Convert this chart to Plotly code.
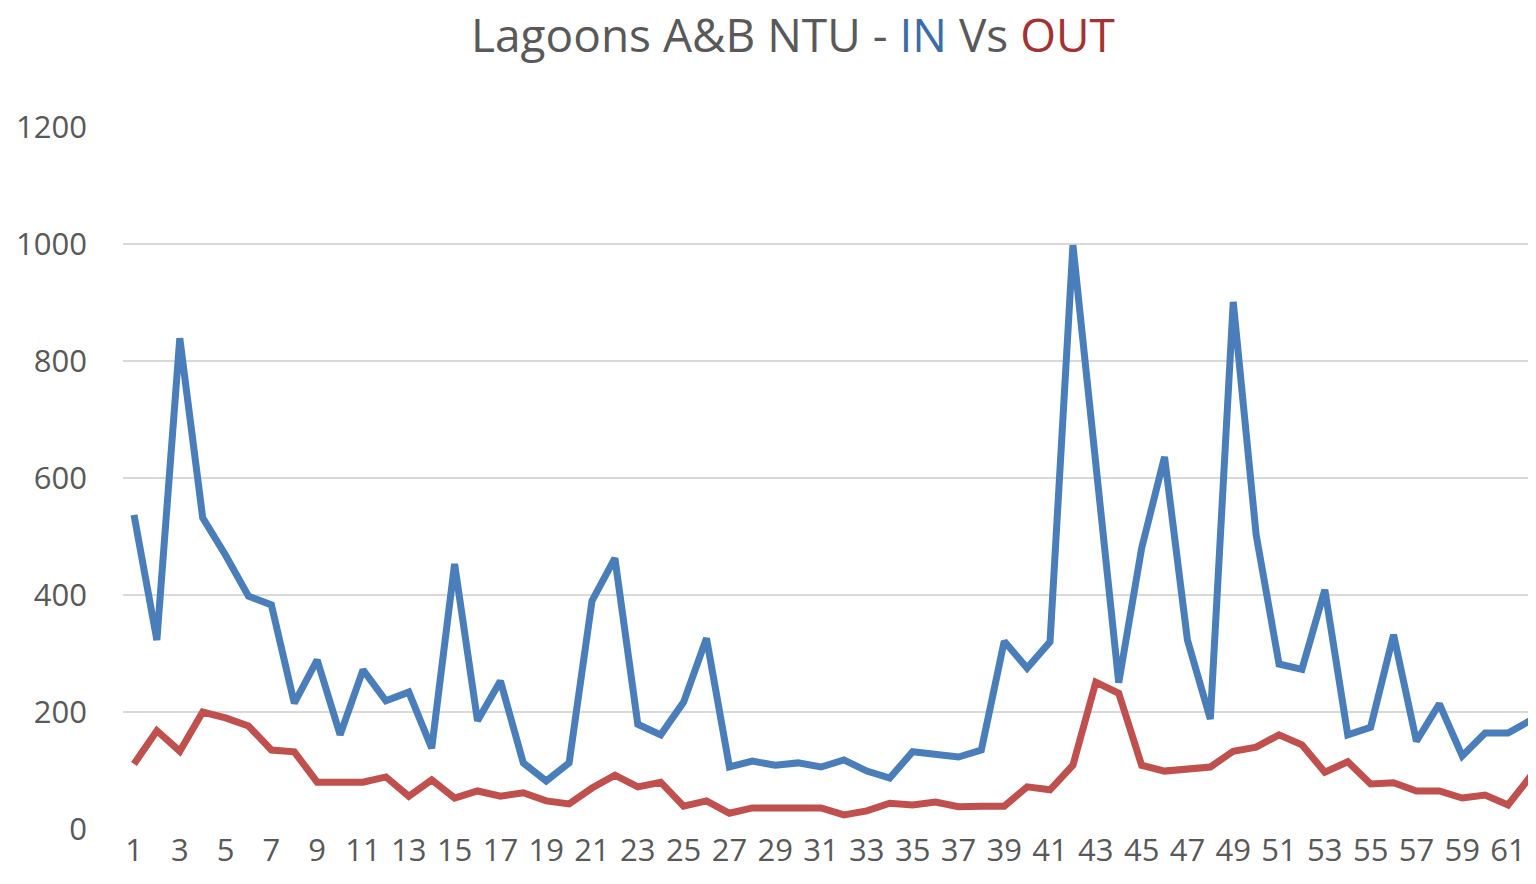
import plotly.graph_objects as go

x = list(range(1, 63))
ntu_in = [537,323,839,532,468,398,383,215,289,161,272,219,234,138,453,185,253,113,82,113,
          390,463,179,161,217,326,106,116,109,113,106,118,99,87,132,126,123,135,321,275,
          320,998,620,250,480,636,323,188,901,503,282,273,409,161,174,332,150,214,125,164,164,186]
ntu_out = [111,168,133,200,190,176,135,132,80,80,80,89,56,84,53,65,56,62,48,43,
           70,92,72,80,39,48,27,36,36,36,36,24,31,44,41,46,38,39,39,72,
           67,109,251,232,109,99,104,106,133,140,161,144,97,115,77,79,65,65,53,58,41,91]
tickvals = list(range(1, 62, 2))

fig = go.Figure()
fig.add_trace(go.Scatter(x=x, y=ntu_in, mode="lines", line=dict(color="#4A7EBB", width=7), name="IN"))
fig.add_trace(go.Scatter(x=x, y=ntu_out, mode="lines", line=dict(color="#C0504D", width=7), name="OUT"))

fig.update_layout(
    width=1536, height=884, showlegend=False,
    paper_bgcolor="white", plot_bgcolor="white",
    margin=dict(l=115, r=0, t=119, b=63, autoexpand=False),
    font=dict(family="Open Sans", color="#595959", size=30),
    annotations=[dict(
        text="Lagoons A&amp;B NTU - <span style='color:#3A6EA8'>IN</span> Vs <span style='color:#A33232'>OUT</span>",
        x=(785-115)/1421, xref="paper", y=1+(119-26)/702, yref="paper", showarrow=False,
        xanchor="center", yanchor="middle",
        font=dict(size=46, color="#595959"))],
)
fig.update_xaxes(range=[0.52, 62.57], tickvals=tickvals, showgrid=False, zeroline=False,
                 showline=False, ticks="", tickfont=dict(size=31), automargin=False)
fig.update_yaxes(range=[0, 1200], tickvals=[0,200,400,600,800,1000,1200], gridcolor="#D9D9D9",
                 gridwidth=2, zeroline=False, showline=False, ticks="", ticklabelstandoff=35,
                 tickfont=dict(size=31), automargin=False)
fig.write_html("out.html")
